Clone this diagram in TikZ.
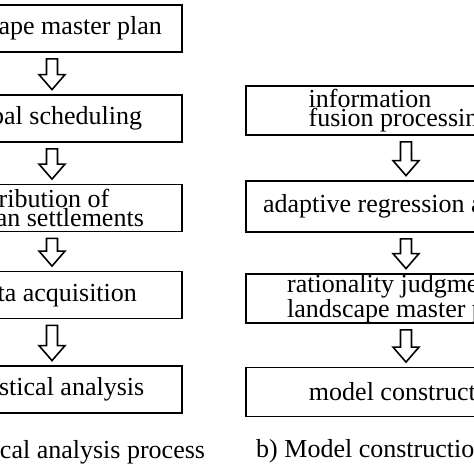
\documentclass[tikz,border=0pt]{standalone}
\usepackage{fontspec}
\setmainfont{Liberation Serif}
\usetikzlibrary{calc}
\tikzset{
  arrx/.store in=\arrx, arrx=0pt,
  box/.style={draw=black, line width=1.8pt, fill=white, inner sep=0pt,
    font=\fontsize{26}{18.5}\selectfont, align=left},
  lbox/.style={box, minimum width=264pt, minimum height=47pt},
  rbox/.style={box, minimum width=326pt, minimum height=49pt},
  caption/.style={font=\fontsize{26}{18}\selectfont, anchor=base, inner sep=0pt},
  hollow/.style={draw=black, line width=1.6pt, fill=white, line join=miter,
    to path={let \p1=(\tikztostart), \p2=(\tikztotarget) in
      (\x1+\arrx-5.5pt,\y1-6pt) -- (\x1+\arrx+5.5pt,\y1-6pt)
      -- (\x1+\arrx+5.5pt,\y2+19.5pt) -- (\x1+\arrx+13pt,\y2+19.5pt)
      -- (\x1+\arrx,\y2+4.5pt) -- (\x1+\arrx-13pt,\y2+19.5pt)
      -- (\x1+\arrx-5.5pt,\y2+19.5pt) -- cycle}}
}
\begin{document}
\begin{tikzpicture}[x=1pt,y=-1pt]
\useasboundingbox (0,0) rectangle (474,474);
\fill[white] (0,0) rectangle (474,474);
\clip (0,0) rectangle (474,474);
% left column
\node[lbox] (l1) at (50,28.5) {landscape master plan\hspace*{6pt}};
\node[lbox] (l2) at (50,118.5) {global scheduling};
\node[lbox] (l3) at (50,208) {\hspace*{5pt}distribution of\\\hspace*{5pt}urban settlements};
\node[lbox] (l4) at (50,295) {\hspace*{10pt}data acquisition};
\node[lbox] (l5) at (50,389.5) {statistical analysis};
\node[caption] (lc) at (53,458) {a) Statistical analysis process};
% right column
\node[rbox] (r1) at (409,110.5) {information\\fusion processing\hspace*{18pt}};
\node[rbox, minimum height=51pt] (r2) at (409,206.5) {adaptive regression analysis};
\node[rbox] (r3) at (409,298.5) {rationality judgment of\hspace*{4pt}\\landscape master plan\hspace*{4pt}};
\node[rbox] (r4) at (409,392) {model construction};
\node[caption] (rc) at (414,457) {b) Model construction process};
% arrows
\draw[hollow, arrx=2pt] (l1.south) to (l2.north);
\draw[hollow, arrx=2pt] (l2.south) to (l3.north);
\draw[hollow, arrx=2pt] (l3.south) to (l4.north);
\draw[hollow, arrx=2pt] (l4.south) to (l5.north);
\draw[hollow, arrx=-3pt] (r1.south) to (r2.north);
\draw[hollow, arrx=-3pt] (r2.south) to (r3.north);
\draw[hollow, arrx=-3pt] (r3.south) to (r4.north);
\end{tikzpicture}
\end{document}
